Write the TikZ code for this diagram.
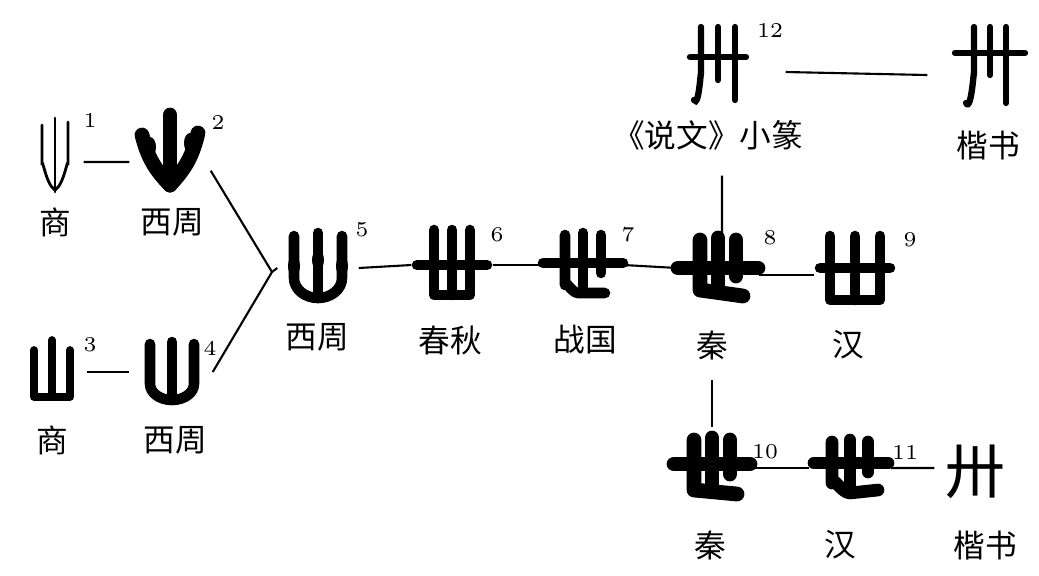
\documentclass[tikz,border=0pt]{standalone}
\usepackage{fontspec}
\newfontfamily\cjk{Noto Sans CJK SC}
\usetikzlibrary{positioning}
\tikzset{
  glyph/.style={minimum width=0.8cm, minimum height=0.6cm, inner sep=0pt},
  era/.style={font=\cjk\fontsize{9}{10}\selectfont, inner sep=0pt},
  num/.style={font=\fontsize{6}{7}\selectfont, inner sep=0pt},
  link/.style={line width=0.6pt},
  fine/.style={line width=0.8pt, line cap=round},
  bold/.style={line width=3pt, line cap=round, line join=round},
  heavy/.style={line width=4.2pt, line cap=round, line join=round}
}
\begin{document}
\begin{tikzpicture}[x=0.01cm, y=-0.01cm]
\useasboundingbox (0,0) rectangle (1039,575);
% glyph places
\node[glyph] (g1) at (55,160) {};
\node[glyph] (g2) at (170,155) {};
\node[glyph] (g3) at (52,372) {};
\node[glyph] (g4) at (172,372) {};
\node[glyph] (g5) at (318,268) {};
\node[glyph] (g6) at (452,265) {};
\node[glyph] (g7) at (583,265) {};
\node[glyph] (g8) at (718,268) {};
\node[glyph] (g9) at (855,268) {};
\node[glyph] (g10) at (712,468) {};
\node[glyph] (g11) at (850,468) {};
\node[glyph, font=\cjk\fontsize{17}{18}\selectfont] (g13) at (975,472) {卅};
\node[glyph] (g12) at (718,65) {};
\node[glyph] (g14) at (990,65) {};
\coordinate (join) at (272,272);
% labels
\node[era] (l1) at (55,222) {商};
\node[era] (l2) at (172,222) {西周};
\node[era] (l3) at (52,440) {商};
\node[era] (l4) at (175,440) {西周};
\node[era] (l5) at (317,337) {西周};
\node[era] (l6) at (450,340) {春秋};
\node[era] (l7) at (585,340) {战国};
\node[era] (l8) at (712,345) {秦};
\node[era] (l9) at (848,345) {汉};
\node[era] (l10) at (710,545) {秦};
\node[era] (l11) at (840,545) {汉};
\node[era] (l13) at (985,545) {楷书};
\node[era] (l12) at (708,135) {《说文》小篆};
\node[era] (l14) at (988,145) {楷书};
% numbers
\node[num] at (90,120) {1};
\node[num] at (218,122) {2};
\node[num] at (90,345) {3};
\node[num] at (210,348) {4};
\node[num] at (362,230) {5};
\node[num] at (497,235) {6};
\node[num] at (628,235) {7};
\node[num] at (770,238) {8};
\node[num] at (910,240) {9};
\node[num] at (765,452) {10};
\node[num] at (905,452) {11};
\node[num] at (770,30) {12};
% connectors
\draw[link] ([xshift=-0.12cm,yshift=-0.02cm]g1.east) -- ([yshift=-0.07cm]g2.west);
\draw[link] (g2.south east) ++(0,-15) -- (join);
\draw[link] (g4.east) -- (join);
\draw[link] ([xshift=-0.06cm]g3.east) -- ([xshift=-0.02cm]g4.west);
\draw[link] (join) -- (g5.west);
\draw[link] (g5.east) -- (g6.west);
\draw[link] (g6.east) -- (g7.west);
\draw[link] (g7.east) -- (g8.west);
\draw[link] ([yshift=-0.07cm]g8.east) -- ([yshift=-0.07cm]g9.west);
\draw[link] (l12.south) ++(14,25) -- ([xshift=0.04cm,yshift=-0.2cm]g8.north);
\draw[link] (l8.south) ++(0,20) -- ([yshift=0.1cm]g10.north);
\draw[link] (g10.east) -- (g11.west);
\draw[link] (g11.east) -- ([yshift=0.04cm]g13.west);
\draw[link] (g12.east) ++(27,7) -- ([xshift=-0.22cm,yshift=-0.1cm]g14.west);
% glyph strokes
\begin{scope}[shift={(g1)}]
  \draw[fine] (-13,-35) -- (-13,5) to[out=90,in=150] (0,30);
  \draw[fine] (13,-38) -- (13,5) to[out=90,in=30] (0,30);
  \draw[fine] (0,-42) -- (0,32);
\end{scope}
\begin{scope}[shift={(g2)}]
  \draw[heavy] (-28,-20) to[bend right=15] (0,30);
  \draw[heavy] (28,-22) to[bend left=15] (0,30);
  \draw[heavy] (0,-40) -- (0,30);
  \fill (-20,-8) ellipse (6 and 10) (0,-28) ellipse (6 and 11) (20,-12) ellipse (6 and 10);
\end{scope}
\begin{scope}[shift={(g3)}]
  \draw[bold, line width=2.2pt] (-18,-22) -- (-18,25) -- (18,25) -- (18,-22) (0,-32) -- (0,25);
\end{scope}
\begin{scope}[shift={(g4)}]
  \draw[bold] (-22,-28) -- (-22,12) arc[start angle=180, end angle=0, x radius=22, y radius=16] -- (22,-28);
  \draw[bold] (0,-30) -- (0,27);
\end{scope}
\begin{scope}[shift={(g5)}]
  \draw[bold] (-24,-32) -- (-24,10) arc[start angle=180, end angle=0, x radius=24, y radius=20] -- (24,-32);
  \draw[bold] (0,-35) -- (0,30);
  \fill (-24,-2) ellipse (6 and 10) (0,-8) ellipse (6 and 10) (24,-2) ellipse (6 and 10);
\end{scope}
\begin{scope}[shift={(g6)}]
  \draw[bold] (-18,-35) -- (-18,30) -- (18,30) -- (18,-35) (0,-35) -- (0,30) (-35,0) -- (35,0);
\end{scope}
\begin{scope}[shift={(g7)}]
  \draw[bold] (-40,-2) -- (40,-2);
  \draw[bold] (-18,-30) -- (-18,20) to[out=90,in=180] (-5,28) -- (22,28);
  \draw[bold] (0,-32) -- (0,22) (18,-30) -- (18,8);
\end{scope}
\begin{scope}[shift={(g8)}]
  \draw[heavy] (-40,0) -- (40,0);
  \draw[heavy] (-18,-28) -- (-18,22) -- (25,28);
  \draw[heavy] (0,-30) -- (0,22) (18,-28) -- (18,8);
\end{scope}
\begin{scope}[shift={(g9)}]
  \draw[bold] (-25,-32) -- (-25,32) -- (25,32) -- (25,-32) (0,-32) -- (0,32) (-35,0) -- (35,0);
\end{scope}
\begin{scope}[shift={(g10)}]
  \draw[heavy] (-38,-4) -- (38,-4);
  \draw[heavy] (-18,-28) -- (-18,22) -- (25,26);
  \draw[heavy] (0,-30) -- (0,20) (18,-28) -- (18,6);
\end{scope}
\begin{scope}[shift={(g11)}]
  \draw[heavy, line width=3.6pt] (-36,-5) -- (38,-5);
  \draw[heavy, line width=3.6pt] (-18,-26) -- (-18,15) to[out=90,in=180] (0,25) -- (28,22);
  \draw[heavy, line width=3.6pt] (0,-28) -- (0,18) (18,-26) -- (18,4);
\end{scope}
\begin{scope}[shift={(g12)}]
  \draw[fine, line width=1.8pt] (-28,-8) -- (28,-8);
  \draw[fine, line width=1.8pt] (-17,-38) -- (-17,10) to[out=90,in=-60] (-24,35);
  \draw[fine, line width=1.8pt] (0,-38) -- (0,15) (17,-38) -- (17,35);
\end{scope}
\begin{scope}[shift={(g14)}]
  \draw[fine, line width=1.8pt] (-35,-12) -- (35,-12);
  \draw[fine, line width=1.8pt] (-16,-38) -- (-16,10) to[out=90,in=-60] (-24,38);
  \draw[fine, line width=1.8pt] (0,-38) -- (0,10) (16,-38) -- (16,38);
\end{scope}
\end{tikzpicture}
\end{document}
